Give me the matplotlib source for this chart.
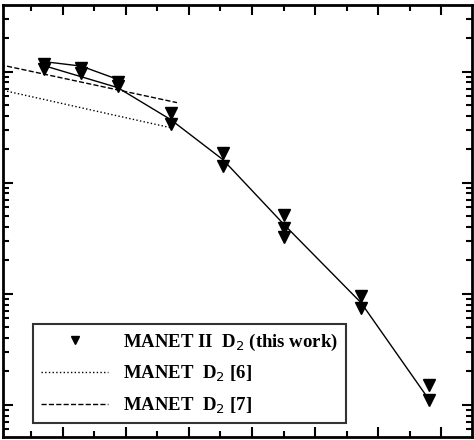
import numpy as np
import matplotlib.pyplot as plt
from matplotlib.ticker import LogLocator, MultipleLocator, NullFormatter

# measured points (x arbitrary units, y as log10 value)
pts_x = [0.70, 0.70, 1.29, 1.29, 1.87, 1.87, 2.71, 2.71, 3.54, 3.54, 4.51, 4.51, 4.51, 5.73, 5.73, 6.81, 6.81]
pts_logy = [0.072, 0.027, 0.036, -0.009, -0.09, -0.126, -0.369, -0.468, -0.73, -0.847,
            -1.288, -1.405, -1.486, -2.018, -2.126, -2.82, -2.955]
fit_x = [0.70, 1.87, 2.71, 3.54, 4.51, 5.73, 6.81]
fit_logy = [0.054, -0.144, -0.432, -0.793, -1.378, -2.081, -2.955]
upper_x = [0.70, 1.29, 1.87]
upper_logy = [0.09, 0.05, -0.07]
ref6_x = [0.0, 2.71]
ref6_logy = [-0.162, -0.505]
ref7_x = [0.0, 2.81]
ref7_logy = [0.063, -0.279]

def p(v):
    return 10 ** np.array(v)

fig = plt.figure(figsize=(4.74, 4.4), dpi=100)
ax = fig.add_axes([3 / 474, 3 / 440, 469 / 474, 432 / 440])
ax.set_yscale('log')

ax.plot(fit_x, p(fit_logy), color='black', lw=1.0)
ax.plot(upper_x, p(upper_logy), color='black', lw=1.0)
ax.plot(pts_x, p(pts_logy), 'v', color='black', ms=8, label='MANET II  D$_2$ (this work)')
ax.plot(ref6_x, p(ref6_logy), ':', color='black', lw=1.0, label='MANET  D$_2$ [6]')
ax.plot(ref7_x, p(ref7_logy), '--', color='black', lw=1.0, label='MANET  D$_2$ [7]')

ax.set_xlim(0.05, 7.49)
ax.set_ylim(10 ** 0.6, 10 ** -3.29)
ax.invert_yaxis()
ax.xaxis.set_major_locator(MultipleLocator(1))
ax.xaxis.set_minor_locator(MultipleLocator(0.5))
ax.yaxis.set_major_locator(LogLocator(base=10))
ax.yaxis.set_minor_locator(LogLocator(base=10, subs=np.arange(2, 10)))
ax.xaxis.set_major_formatter(NullFormatter())
ax.yaxis.set_major_formatter(NullFormatter())
ax.yaxis.set_minor_formatter(NullFormatter())
ax.tick_params(which='both', direction='in', top=True, right=True, width=1.5)
ax.tick_params(which='major', length=7)
ax.tick_params(which='minor', length=4)
for s in ax.spines.values():
    s.set_linewidth(2)

leg = ax.legend(loc='lower left', bbox_to_anchor=(0.045, 0.01), frameon=True, fancybox=False,
                edgecolor='black', handlelength=3.6, markerscale=0.7, labelspacing=0.6,
                prop={'family': 'Liberation Serif', 'weight': 'bold', 'size': 13.5})
leg.get_frame().set_linewidth(1.5)

fig.savefig('out.png')
